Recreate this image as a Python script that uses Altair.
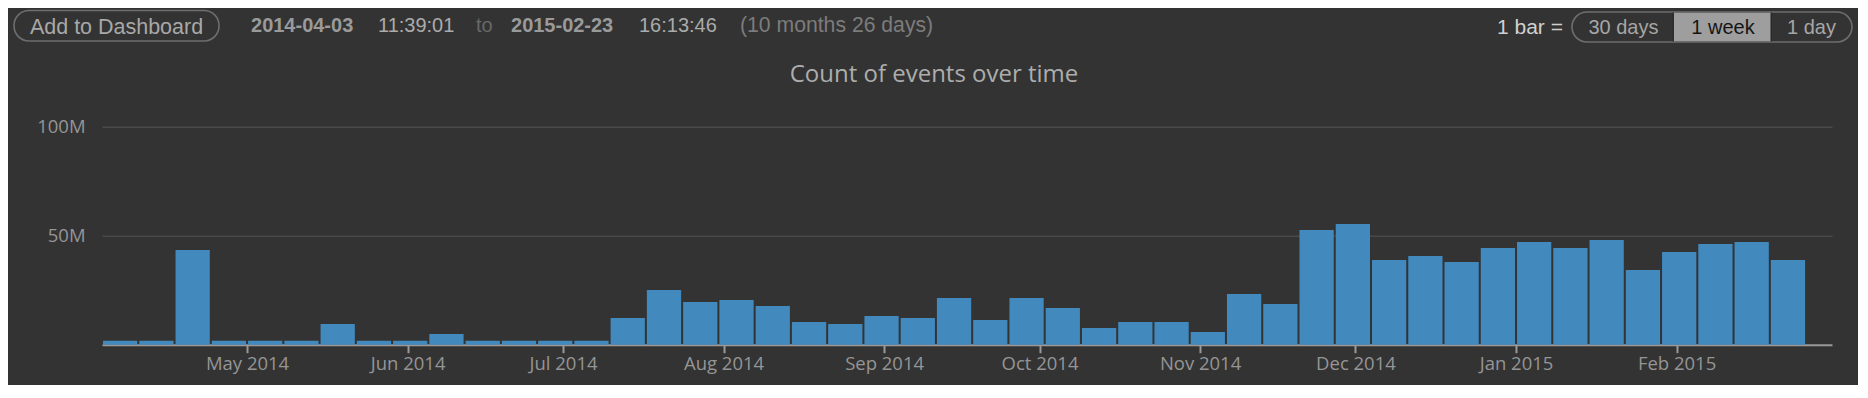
import altair as alt
import pandas as pd

# ---- data -------------------------------------------------------------
week_starts = pd.date_range("2014-04-03", periods=47, freq="7D")
counts_millions = [
    1.8, 1.8, 43.4, 1.8, 1.8, 1.8, 9.5, 1.8, 1.8, 4.9,
    1.8, 1.8, 1.8, 1.8, 12.2, 25.1, 19.6, 20.5, 17.7, 10.4,
    9.5, 13.2, 12.2, 21.4, 11.3, 21.4, 16.8, 7.6, 10.4, 10.4,
    5.8, 23.3, 18.7, 52.6, 55.4, 38.9, 40.7, 37.9, 44.3, 47.1,
    44.3, 48.0, 34.3, 42.5, 46.2, 47.1, 38.9,
]
month_ticks = [(2014, m) for m in range(5, 13)] + [(2015, 1), (2015, 2)]
y_ticks = [50e6, 100e6]

df = pd.DataFrame({
    "start": [d.strftime("%Y-%m-%dT%H:%M:%S") for d in week_starts],
    "end": [(d + pd.Timedelta(days=7)).strftime("%Y-%m-%dT%H:%M:%S") for d in week_starts],
    "count": [v * 1e6 for v in counts_millions],
})

# ---- layout constants (page coords) -----------------------------------
OX, OY = 102, 126.7          # plot origin on the page
W, H = 1730, 218
BG = "#333333"
AXIS_FONT = "Open Sans"
UI_FONT = "Liberation Sans"

bars = alt.Chart(df).mark_bar(color="#4289be", xOffset=1, x2Offset=-1).encode(
    x=alt.X(
        "start:T",
        title=None,
        scale=alt.Scale(domain=[alt.DateTime(year=2014, month=4, date=3),
                                alt.DateTime(year=2015, month=3, date=3)]),
        axis=alt.Axis(
            values=[alt.DateTime(year=y, month=m, date=1) for y, m in month_ticks],
            format="%b %Y",
            grid=False,
            domainColor="#9a9a9a", domainWidth=2,
            tickColor="#9a9a9a", tickWidth=2, tickSize=8,
            labelColor="#959595", labelFont=AXIS_FONT, labelFontSize=18.5,
            labelPadding=2, labelBaseline="top",
        ),
    ),
    x2="end:T",
    y=alt.Y(
        "count:Q",
        title=None,
        scale=alt.Scale(domain=[0, 100e6], nice=False),
        axis=alt.Axis(
            values=y_ticks,
            labelExpr="datum.value / 1000000 + 'M'",
            domain=False, ticks=False,
            gridColor="#494949", gridWidth=1.4,
            labelColor="#959595", labelFont=AXIS_FONT, labelFontSize=18.5,
            labelPadding=17,
        ),
    ),
    y2=alt.datum(0),
)


def one():
    return alt.Data(values=[{"k": 1}])


def text(t, x, y, size=20, color="#aaaaaa", weight="normal", align="left", font=UI_FONT):
    return alt.Chart(one()).mark_text(
        text=t, align=align, baseline="alphabetic", font=font,
        fontSize=size, fontWeight=weight, color=color,
    ).encode(x=alt.value(x - OX), y=alt.value(y - OY))


def box(x1, y1, x2, y2, fill="transparent", stroke="#6e6e6e", radius=0, sw=1.6):
    return alt.Chart(one()).mark_rect(
        fill=fill, stroke=stroke, strokeWidth=sw, cornerRadius=radius,
    ).encode(x=alt.value(x1 - OX), x2=alt.value(x2 - OX),
             y=alt.value(y1 - OY), y2=alt.value(y2 - OY))


header = [
    box(14, 10.5, 219, 41, radius=15),
    text("Add to Dashboard", 116.5, 34, size=21.5, color="#a8a8a8", align="center"),
    text("2014-04-03", 251, 32.5, color="#9a9a9a", weight="bold"),
    text("11:39:01", 378, 32.5, color="#ababab"),
    text("to", 476, 32.5, color="#686868"),
    text("2015-02-23", 511, 32.5, color="#9a9a9a", weight="bold"),
    text("16:13:46", 639, 32.5, color="#ababab"),
    text("(10 months 26 days)", 740, 32.5, size=21.2, color="#7c7c7c"),
    text("1 bar =", 1497, 34.3, size=21, color="#d0d0d0"),
    box(1674, 12.5, 1770.5, 41.5, fill="#9e9e9e", stroke="transparent", sw=0),
    box(1572, 12, 1852, 42, radius=15),
    box(1672.5, 12.5, 1673.5, 41.5, fill="#2a2a2a", stroke="transparent", sw=0),
    box(1771, 12.5, 1772, 41.5, fill="#2a2a2a", stroke="transparent", sw=0),
    text("30 days", 1623.5, 34.3, color="#a6a6a6", align="center"),
    text("1 week", 1723, 34.3, color="#151515", align="center"),
    text("1 day", 1811.5, 34.3, color="#a6a6a6", align="center"),
    text("Count of events over time", 934, 82.3, size=24, color="#adadad",
         align="center", font=AXIS_FONT),
]

chart = alt.layer(bars, *header).properties(
    width=W,
    height=H,
    autosize=alt.AutoSizeParams(type="none"),
    padding={"left": OX - 8, "top": OY - 8, "right": 26, "bottom": 40},
    background=BG,
).configure_view(stroke=None)

chart.save("out.html", embed_options={"renderer": "svg", "actions": False})
